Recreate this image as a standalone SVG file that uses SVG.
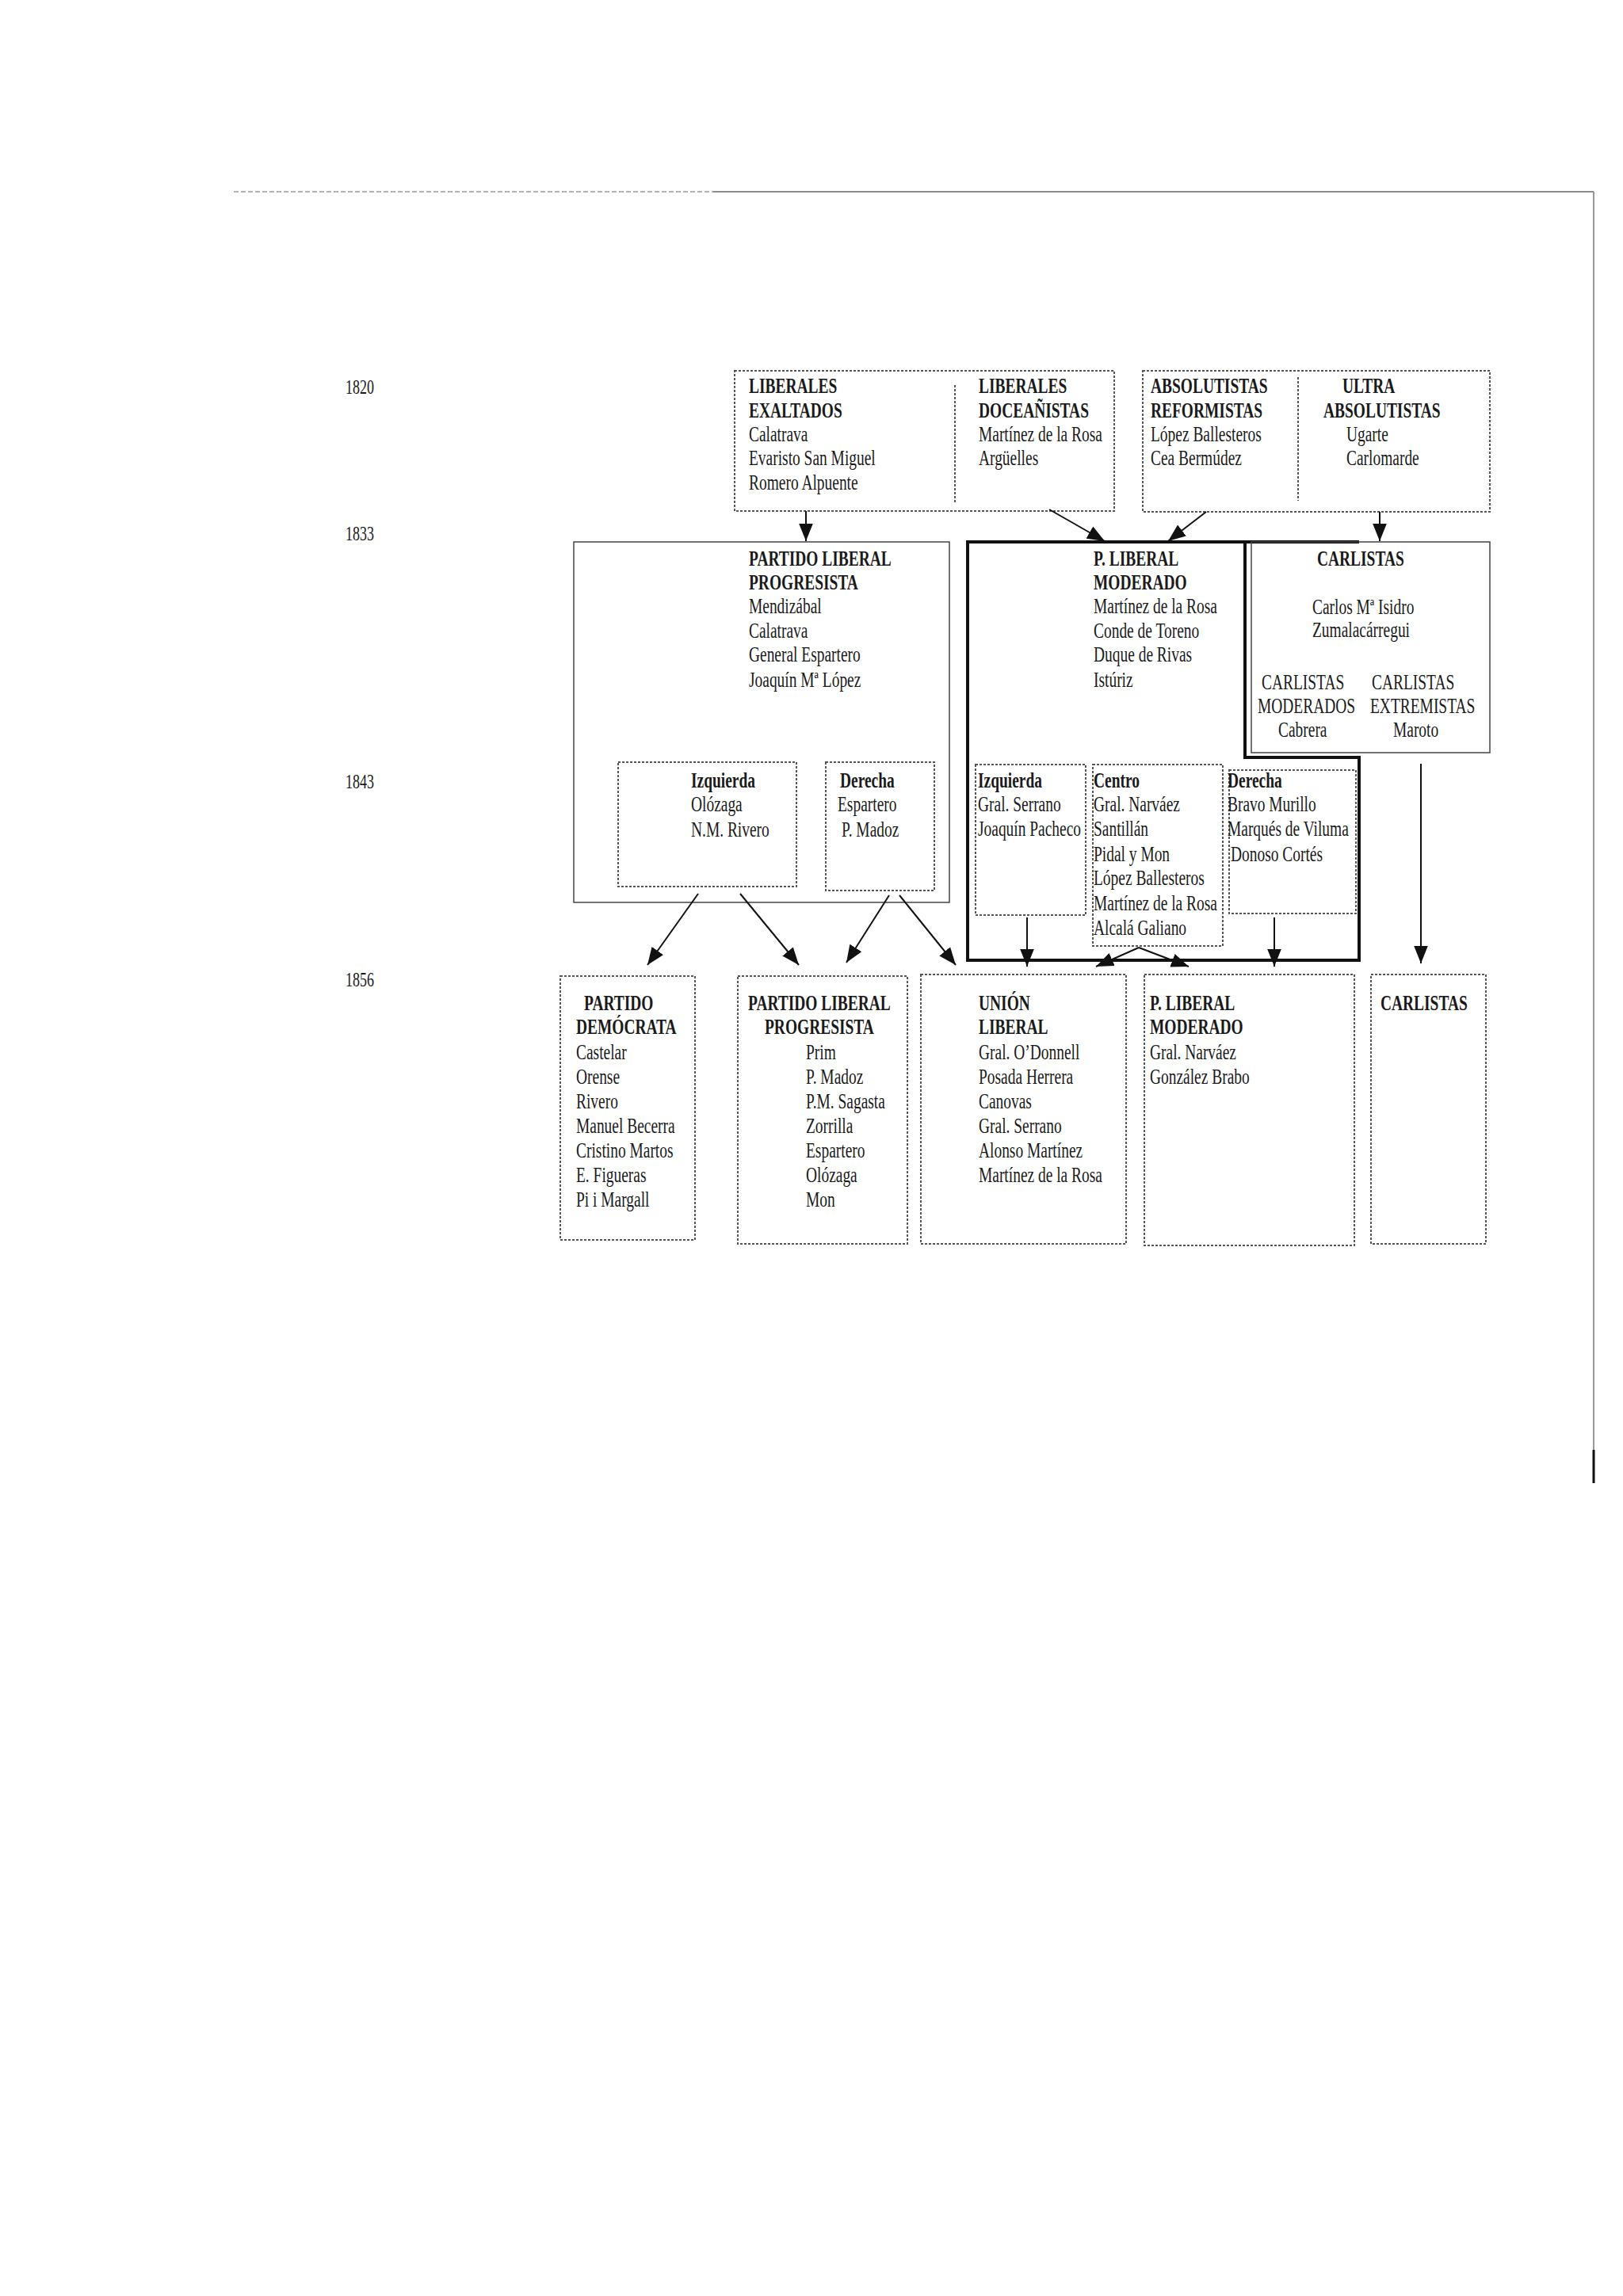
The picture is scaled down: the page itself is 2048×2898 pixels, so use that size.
<svg xmlns="http://www.w3.org/2000/svg" width="2048" height="2898" viewBox="0 0 2048 2898">
<style>
text{font-family:"Liberation Serif","Times New Roman",serif;font-size:27px;fill:#1a1a1a}
.b{font-weight:bold}
.y{font-size:25px}
.d{fill:none;stroke:#555;stroke-width:2;stroke-dasharray:3 2}
.s{fill:none;stroke:#444;stroke-width:1.5}
.k{fill:none;stroke:#111;stroke-width:4}
</style>
<defs>
<marker id="ah2" viewBox="0 0 10 10" refX="10" refY="5" markerWidth="22" markerHeight="22" markerUnits="userSpaceOnUse" orient="auto"><path d="M0,1 L10,5 L0,9 z" fill="#111"/></marker></defs>
<rect width="2048" height="2898" fill="#fff"/>
<line x1="295" y1="242" x2="900" y2="242" stroke="#999" stroke-width="1.5" stroke-dasharray="6 3"/>
<line x1="900" y1="242" x2="2011" y2="242" stroke="#666" stroke-width="1.5"/>
<line x1="2011" y1="242" x2="2011" y2="1870" stroke="#777" stroke-width="1.5"/>
<line x1="2011" y1="1830" x2="2011" y2="1872" stroke="#111" stroke-width="3"/>
<g id="years">
<text class="y" transform="translate(436,497) scale(0.72,1)">1820</text>
<text class="y" transform="translate(436,682) scale(0.72,1)">1833</text>
<text class="y" transform="translate(436,995) scale(0.72,1)">1843</text>
<text class="y" transform="translate(436,1245) scale(0.72,1)">1856</text>
</g>
<g id="liberales1820">
<rect class="d" x="927" y="468" width="479" height="177"/>
<line class="d" x1="1205" y1="486" x2="1205" y2="634"/>
<text class="b" transform="translate(945,496) scale(0.72,1)">LIBERALES</text>
<text class="b" transform="translate(945,527) scale(0.72,1)">EXALTADOS</text>
<text transform="translate(945,557) scale(0.72,1)">Calatrava</text>
<text transform="translate(945,587) scale(0.72,1)">Evaristo San Miguel</text>
<text transform="translate(945,618) scale(0.72,1)">Romero Alpuente</text>
<text class="b" transform="translate(1235,496) scale(0.72,1)">LIBERALES</text>
<text class="b" transform="translate(1235,527) scale(0.72,1)">DOCEAÑISTAS</text>
<text transform="translate(1235,557) scale(0.72,1)">Martínez de la Rosa</text>
<text transform="translate(1235,587) scale(0.72,1)">Argüelles</text>
</g>
<g id="absolutistas1820">
<rect class="d" x="1442" y="468" width="438" height="178"/>
<line class="d" x1="1638" y1="476" x2="1638" y2="632"/>
<text class="b" transform="translate(1452,496) scale(0.72,1)">ABSOLUTISTAS</text>
<text class="b" transform="translate(1452,527) scale(0.72,1)">REFORMISTAS</text>
<text transform="translate(1452,557) scale(0.72,1)">López Ballesteros</text>
<text transform="translate(1452,587) scale(0.72,1)">Cea Bermúdez</text>
<text class="b" transform="translate(1694,496) scale(0.72,1)">ULTRA</text>
<text class="b" transform="translate(1670,527) scale(0.72,1)">ABSOLUTISTAS</text>
<text transform="translate(1699,557) scale(0.72,1)">Ugarte</text>
<text transform="translate(1699,587) scale(0.72,1)">Carlomarde</text>
</g>
<g id="plp1833">
<rect class="s" x="724" y="684" width="474" height="455"/>
<text class="b" transform="translate(945,714) scale(0.72,1)">PARTIDO LIBERAL</text>
<text class="b" transform="translate(945,744) scale(0.72,1)">PROGRESISTA</text>
<text transform="translate(945,774) scale(0.72,1)">Mendizábal</text>
<text transform="translate(945,805) scale(0.72,1)">Calatrava</text>
<text transform="translate(945,835) scale(0.72,1)">General Espartero</text>
<text transform="translate(945,867) scale(0.72,1)">Joaquín Mª López</text>
</g>
<g id="plp-izq">
<rect class="d" x="780" y="962" width="225" height="157"/>
<text class="b" transform="translate(872,994) scale(0.72,1)">Izquierda</text>
<text transform="translate(872,1024) scale(0.72,1)">Olózaga</text>
<text transform="translate(872,1056) scale(0.72,1)">N.M. Rivero</text>
</g>
<g id="plp-der">
<rect class="d" x="1042" y="962" width="137" height="162"/>
<text class="b" transform="translate(1060,994) scale(0.72,1)">Derecha</text>
<text transform="translate(1057,1024) scale(0.72,1)">Espartero</text>
<text transform="translate(1062,1056) scale(0.72,1)">P. Madoz</text>
</g>
<g id="plm1833">
<path class="k" d="M1715,684 H1221 V1212 H1715 V956 H1571 V684"/>
<text class="b" transform="translate(1380,714) scale(0.72,1)">P. LIBERAL</text>
<text class="b" transform="translate(1380,744) scale(0.72,1)">MODERADO</text>
<text transform="translate(1380,774) scale(0.72,1)">Martínez de la Rosa</text>
<text transform="translate(1380,805) scale(0.72,1)">Conde de Toreno</text>
<text transform="translate(1380,835) scale(0.72,1)">Duque de Rivas</text>
<text transform="translate(1380,867) scale(0.72,1)">Istúriz</text>
</g>
<g id="plm-izq">
<rect class="d" x="1231" y="965" width="139" height="190"/>
<text class="b" transform="translate(1234,994) scale(0.72,1)">Izquierda</text>
<text transform="translate(1234,1024) scale(0.72,1)">Gral. Serrano</text>
<text transform="translate(1234,1055) scale(0.72,1)">Joaquín Pacheco</text>
</g>
<g id="plm-centro">
<rect class="d" x="1379" y="965" width="164" height="229"/>
<text class="b" transform="translate(1380,994) scale(0.72,1)">Centro</text>
<text transform="translate(1380,1024) scale(0.72,1)">Gral. Narváez</text>
<text transform="translate(1380,1055) scale(0.72,1)">Santillán</text>
<text transform="translate(1380,1087) scale(0.72,1)">Pidal y Mon</text>
<text transform="translate(1380,1117) scale(0.72,1)">López Ballesteros</text>
<text transform="translate(1380,1149) scale(0.72,1)">Martínez de la Rosa</text>
<text transform="translate(1380,1180) scale(0.72,1)">Alcalá Galiano</text>
</g>
<g id="plm-der">
<rect class="d" x="1551" y="972" width="160" height="181"/>
<text class="b" transform="translate(1549,994) scale(0.72,1)">Derecha</text>
<text transform="translate(1549,1024) scale(0.72,1)">Bravo Murillo</text>
<text transform="translate(1549,1055) scale(0.72,1)">Marqués de Viluma</text>
<text transform="translate(1553,1087) scale(0.72,1)">Donoso Cortés</text>
</g>
<g id="carlistas1833">
<rect class="s" x="1579" y="684" width="301" height="266"/>
<text class="b" transform="translate(1662,714) scale(0.72,1)">CARLISTAS</text>
<text transform="translate(1656,775) scale(0.72,1)">Carlos Mª Isidro</text>
<text transform="translate(1656,804) scale(0.72,1)">Zumalacárregui</text>
<text transform="translate(1592,870) scale(0.72,1)">CARLISTAS</text>
<text transform="translate(1587,900) scale(0.72,1)">MODERADOS</text>
<text transform="translate(1613,930) scale(0.72,1)">Cabrera</text>
<text transform="translate(1731,870) scale(0.72,1)">CARLISTAS</text>
<text transform="translate(1729,900) scale(0.72,1)">EXTREMISTAS</text>
<text transform="translate(1758,930) scale(0.72,1)">Maroto</text>
</g>
<g id="democrata1856">
<rect class="d" x="707" y="1232" width="170" height="333"/>
<text class="b" transform="translate(737,1275) scale(0.72,1)">PARTIDO</text>
<text class="b" transform="translate(727,1305) scale(0.72,1)">DEMÓCRATA</text>
<text transform="translate(727,1337) scale(0.72,1)">Castelar</text>
<text transform="translate(727,1368) scale(0.72,1)">Orense</text>
<text transform="translate(727,1399) scale(0.72,1)">Rivero</text>
<text transform="translate(727,1430) scale(0.72,1)">Manuel Becerra</text>
<text transform="translate(727,1461) scale(0.72,1)">Cristino Martos</text>
<text transform="translate(727,1492) scale(0.72,1)">E. Figueras</text>
<text transform="translate(727,1523) scale(0.72,1)">Pi i Margall</text>
</g>
<g id="plp1856">
<rect class="d" x="931" y="1232" width="214" height="338"/>
<text class="b" transform="translate(944,1275) scale(0.72,1)">PARTIDO LIBERAL</text>
<text class="b" transform="translate(965,1305) scale(0.72,1)">PROGRESISTA</text>
<text transform="translate(1017,1337) scale(0.72,1)">Prim</text>
<text transform="translate(1017,1368) scale(0.72,1)">P. Madoz</text>
<text transform="translate(1017,1399) scale(0.72,1)">P.M. Sagasta</text>
<text transform="translate(1017,1430) scale(0.72,1)">Zorrilla</text>
<text transform="translate(1017,1461) scale(0.72,1)">Espartero</text>
<text transform="translate(1017,1492) scale(0.72,1)">Olózaga</text>
<text transform="translate(1017,1523) scale(0.72,1)">Mon</text>
</g>
<g id="union1856">
<rect class="d" x="1162" y="1230" width="259" height="340"/>
<text class="b" transform="translate(1235,1275) scale(0.72,1)">UNIÓN</text>
<text class="b" transform="translate(1235,1305) scale(0.72,1)">LIBERAL</text>
<text transform="translate(1235,1337) scale(0.72,1)">Gral. O’Donnell</text>
<text transform="translate(1235,1368) scale(0.72,1)">Posada Herrera</text>
<text transform="translate(1235,1399) scale(0.72,1)">Canovas</text>
<text transform="translate(1235,1430) scale(0.72,1)">Gral. Serrano</text>
<text transform="translate(1235,1461) scale(0.72,1)">Alonso Martínez</text>
<text transform="translate(1235,1492) scale(0.72,1)">Martínez de la Rosa</text>
</g>
<g id="plm1856">
<rect class="d" x="1444" y="1230" width="265" height="342"/>
<text class="b" transform="translate(1451,1275) scale(0.72,1)">P. LIBERAL</text>
<text class="b" transform="translate(1451,1305) scale(0.72,1)">MODERADO</text>
<text transform="translate(1451,1337) scale(0.72,1)">Gral. Narváez</text>
<text transform="translate(1451,1368) scale(0.72,1)">González Brabo</text>
</g>
<g id="carlistas1856">
<rect class="d" x="1730" y="1230" width="145" height="340"/>
<text class="b" transform="translate(1742,1275) scale(0.72,1)">CARLISTAS</text>
</g>
<g id="connectors" stroke="#111" stroke-width="2" fill="none">
<line x1="1017" y1="645" x2="1017" y2="683" marker-end="url(#ah2)"/>
<line x1="1324" y1="643" x2="1394" y2="683" marker-end="url(#ah2)"/>
<line x1="1522" y1="646" x2="1474" y2="683" marker-end="url(#ah2)"/>
<line x1="1741" y1="646" x2="1741" y2="683" marker-end="url(#ah2)"/>
<line x1="881" y1="1128" x2="817" y2="1218" marker-end="url(#ah2)"/>
<line x1="934" y1="1128" x2="1008" y2="1218" marker-end="url(#ah2)"/>
<line x1="1122" y1="1130" x2="1068" y2="1215" marker-end="url(#ah2)"/>
<line x1="1135" y1="1130" x2="1206" y2="1218" marker-end="url(#ah2)"/>
<line x1="1296" y1="1158" x2="1296" y2="1220" marker-end="url(#ah2)"/>
<line x1="1437" y1="1196" x2="1383" y2="1220" marker-end="url(#ah2)"/>
<line x1="1437" y1="1196" x2="1500" y2="1220" marker-end="url(#ah2)"/>
<line x1="1608" y1="1158" x2="1608" y2="1220" marker-end="url(#ah2)"/>
<line x1="1793" y1="964" x2="1793" y2="1216" marker-end="url(#ah2)"/>
</g>
</svg>
